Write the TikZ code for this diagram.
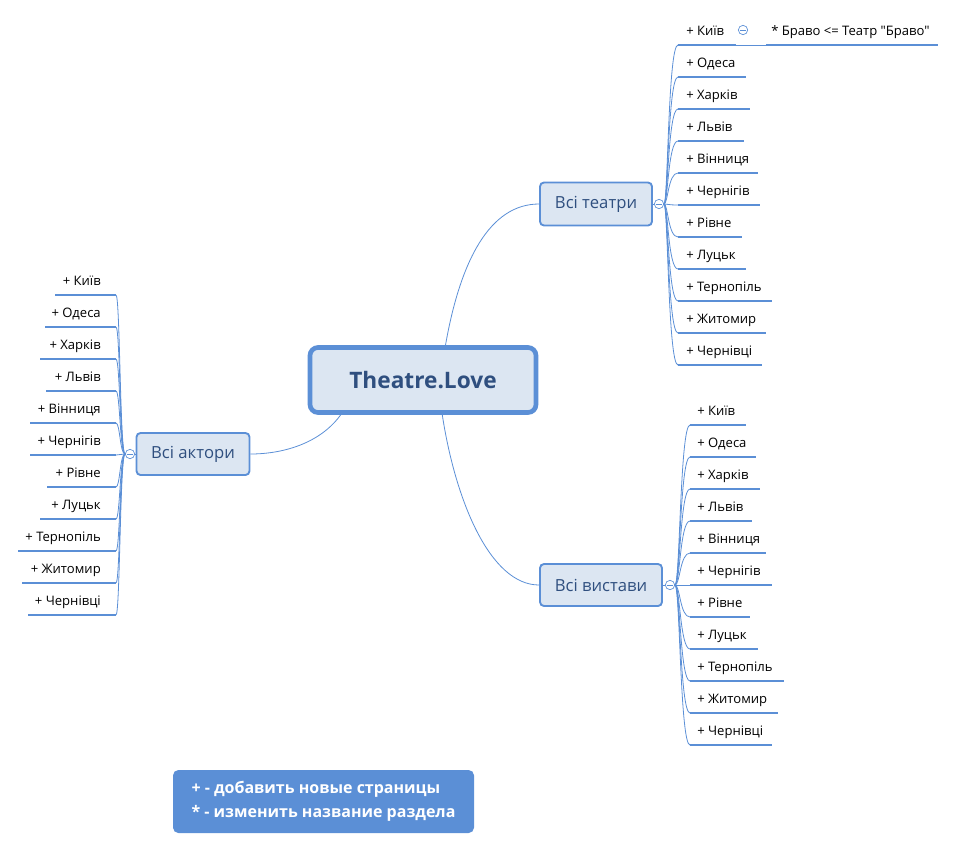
\documentclass[tikz,border=0pt]{standalone}
\usepackage{fontspec}
\setmainfont{Open Sans}[Ligatures=TeXOff]
\begin{document}
\begin{tikzpicture}[x=0.75pt,y=-0.75pt,
  bl/.style={draw=lb,line width=1.7pt},
  conn/.style={draw=lb,line width=0.6pt},
  topic/.style={draw=lb,fill=fb,rounded corners=3pt,line width=1.4pt,font=\fontsize{12.5}{14}\selectfont,text=dk,inner sep=0pt},
  item/.style={font=\fontsize{9.8}{11}\selectfont,inner sep=0pt,anchor=base west},
  itemr/.style={font=\fontsize{9.8}{11}\selectfont,inner sep=0pt,anchor=base east},
  col/.style={circle,draw=lb,fill=white,line width=0.5pt,minimum size=7pt,inner sep=0pt,
    path picture={\draw[lb,line width=0.5pt] ([xshift=-2pt]path picture bounding box.center)--([xshift=2pt]path picture bounding box.center);}}]
\definecolor{lb}{HTML}{5B8FD6}
\definecolor{fb}{HTML}{DCE6F2}
\definecolor{dk}{HTML}{2F4F7F}
\useasboundingbox (0,0) rectangle (955,850);
% central
\node[draw=lb,fill=fb,rounded corners=6pt,line width=3.5pt,minimum width=226pt*0.75,minimum height=65pt*0.75,text=dk,font=\fontsize{17}{18}\selectfont\bfseries] (c) at (423,380) {Theatre.Love};
\node[topic,minimum width=112*0.75pt,minimum height=43*0.75pt] (t) at (596,204) {Всі театри};
\node[topic,minimum width=122*0.75pt,minimum height=42*0.75pt] (v) at (601,585) {Всі вистави};
\node[topic,minimum width=113*0.75pt,minimum height=42*0.75pt] (a) at (193,454) {Всі актори};
\coordinate (c1) at (445,348);
\coordinate (c2) at (342,413);
\coordinate (c3) at (442,413);
\draw[conn] (c1) .. controls (460,260) and (490,204) .. (t.west);
\draw[conn] (c2) .. controls (320,445) and (280,454) .. (a.east);
\draw[conn] (c3) .. controls (455,500) and (490,585) .. (v.west);
% theatres
\node[col] (tc) at (659,204) {};
\draw[conn] (t.east) -- (tc);
\foreach \i/\n/\e in {0/Київ/736,1/Одеса/746,2/Харків/750,3/Львів/744,4/Вінниця/758,5/Чернігів/760,6/Рівне/742,7/Луцьк/746,8/Тернопіль/772,9/Житомир/766,10/Чернівці/762}{
  \pgfmathsetmacro\yy{45+32*\i}
  \coordinate (ts\i) at (678,\yy);
  \coordinate (te\i) at (\e,\yy);
  \draw[bl] (ts\i) -- (te\i);
  \node[item] (tn\i) at (686,\yy-10) {+ \n};
  \draw[conn] (tc.east) .. controls (668,204) and (668,\yy) .. (ts\i);
}
\node[col] (bc) at (743,30) {};
\coordinate (bs) at (766,45);
\coordinate (be) at (938,45);
\draw[conn] (te0) -- (bs);
\draw[bl] (bs) -- (be);
\node[item] (bn) at (771,35) {* Браво <= Театр "Браво"};
% performances
\node[col] (vc) at (670,585) {};
\draw[conn] (v.east) -- (vc);
\foreach \i/\n/\e in {0/Київ/746,1/Одеса/756,2/Харків/760,3/Львів/752,4/Вінниця/766,5/Чернігів/772,6/Рівне/750,7/Луцьк/758,8/Тернопіль/784,9/Житомир/778,10/Чернівці/772}{
  \pgfmathsetmacro\yy{425+32*\i}
  \coordinate (vs\i) at (690,\yy);
  \coordinate (ve\i) at (\e,\yy);
  \draw[bl] (vs\i) -- (ve\i);
  \node[item] (vn\i) at (697,\yy-10) {+ \n};
  \draw[conn] (vc.east) .. controls (680,585) and (680,\yy) .. (vs\i);
}
% actors
\node[col] (ac) at (130,454) {};
\draw[conn] (a.west) -- (ac);
\foreach \i/\n/\s in {0/Київ/55,1/Одеса/45,2/Харків/40,3/Львів/46,4/Вінниця/30,5/Чернігів/30,6/Рівне/47,7/Луцьк/40,8/Тернопіль/18,9/Житомир/22,10/Чернівці/28}{
  \pgfmathsetmacro\yy{295+32*\i}
  \coordinate (ae\i) at (116,\yy);
  \coordinate (as\i) at (\s,\yy);
  \draw[bl] (as\i) -- (ae\i);
  \node[itemr] (an\i) at (101,\yy-10) {+ \n};
  \draw[conn] (ac.west) .. controls (120,454) and (120,\yy) .. (ae\i);
}
% legend
\node[fill=lb,rounded corners=4pt,minimum width=301*0.75pt,minimum height=63*0.75pt,text=white,font=\fontsize{12}{18}\selectfont\bfseries,align=left] (leg) at (323.5,801.5) {+ - добавить новые страницы\\{}* - изменить название раздела};
\end{tikzpicture}
\end{document}
